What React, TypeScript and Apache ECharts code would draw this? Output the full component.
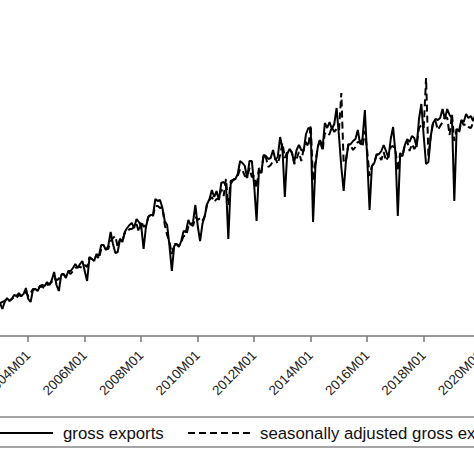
import React, { useEffect, useRef } from "react";
import * as echarts from "echarts";

// Monthly categories 2003M01 .. 2020M01
const years = [2003, 2004, 2005, 2006, 2007, 2008, 2009, 2010, 2011, 2012, 2013, 2014, 2015, 2016, 2017, 2018, 2019, 2020];
const months = ["01", "02", "03", "04", "05", "06", "07", "08", "09", "10", "11", "12"];
const categories: string[] = [];
years.forEach((y) => months.forEach((m) => { if (y < 2020 || m === "01") categories.push(`${y}M${m}`); }));

const legendNames = ["gross exports", "seasonally adjusted gross exports"];

// gross exports (one row per year)
const grossExports: number[] = [
  33, 27, 34, 38, 35, 37, 41, 40, 43, 40, 42, 48,
  37, 34, 46, 47, 45, 50, 51, 50, 54, 51, 56, 64,
  51, 45, 61, 62, 58, 65, 65, 68, 72, 68, 72, 75,
  65, 55, 78, 77, 75, 82, 80, 91, 91, 86, 90, 104,
  92, 83, 84, 97, 94, 104, 108, 111, 113, 108, 117, 114,
  110, 87, 109, 119, 121, 121, 137, 135, 136, 128, 115, 111,
  90, 65, 90, 92, 89, 95, 105, 104, 116, 111, 114, 131,
  110, 95, 112, 120, 132, 137, 146, 139, 145, 136, 153, 154,
  151, 97, 152, 156, 157, 162, 175, 173, 170, 158, 175, 175,
  150, 115, 166, 163, 181, 180, 177, 178, 186, 176, 179, 199,
  187, 139, 182, 187, 183, 174, 186, 191, 186, 185, 202, 208,
  207, 114, 170, 189, 196, 187, 213, 208, 214, 207, 212, 228,
  200, 169, 145, 176, 191, 192, 195, 197, 206, 192, 197, 226,
  178, 126, 170, 173, 181, 182, 185, 191, 185, 178, 197, 209,
  183, 120, 181, 180, 191, 197, 194, 200, 198, 189, 217, 232,
  200, 172, 174, 200, 213, 217, 216, 218, 227, 217, 227, 221,
  218, 135, 207, 205, 216, 214, 222, 218, 220, 215, 222, 238,
  190,
];

// seasonally adjusted gross exports
const saExports: number[] = [
  33, 34, 35, 38, 35, 37, 39, 38, 41, 40, 40, 44,
  40, 43, 47, 47, 46, 50, 49, 48, 51, 52, 54, 58,
  56, 57, 62, 62, 59, 64, 62, 65, 68, 69, 69, 68,
  71, 69, 79, 77, 76, 81, 77, 87, 86, 87, 87, 95,
  98, 100, 89, 97, 95, 103, 103, 107, 107, 109, 112, 104,
  115, 109, 111, 119, 122, 120, 130, 130, 128, 129, 111, 101,
  94, 82, 92, 92, 90, 94, 100, 100, 109, 112, 110, 119,
  116, 118, 115, 120, 133, 136, 139, 134, 137, 137, 147, 140,
  157, 131, 155, 156, 158, 160, 167, 166, 160, 159, 168, 159,
  160, 148, 168, 163, 182, 178, 169, 171, 175, 178, 172, 181,
  193, 178, 184, 187, 184, 172, 177, 184, 175, 187, 194, 189,
  211, 155, 174, 189, 197, 185, 203, 200, 202, 209, 204, 207,
  205, 243, 173, 176, 192, 190, 186, 189, 194, 194, 189, 205,
  185, 160, 170, 173, 182, 180, 176, 184, 175, 180, 189, 190,
  186, 165, 183, 180, 192, 195, 185, 192, 187, 191, 208, 211,
  208, 258, 180, 200, 214, 215, 206, 210, 214, 219, 218, 201,
  222, 195, 207, 203, 215, 211, 212, 209, 208, 213, 213, 216,
  210,
];

const FONT = 'Arial, "Liberation Sans", Helvetica, sans-serif';
const DASH = [7, 4];

const isTick = (_i: number, v: string) => v.endsWith("M01") && parseInt(v.slice(0, 4), 10) % 2 === 0;

export default function App() {
  const ref = useRef<HTMLDivElement>(null);
  useEffect(() => {
    if (!ref.current) return;
    const chart = echarts.init(ref.current, undefined, { renderer: "svg" });
    const legendY = 433;
    chart.setOption({
      animation: false,
      backgroundColor: "#ffffff",
      grid: { left: 0, top: 46, width: 480.2, bottom: 128, containLabel: false, outerBoundsMode: "none" },
      xAxis: {
        type: "category",
        data: categories,
        boundaryGap: false,
        axisLine: { show: true, lineStyle: { color: "#777", width: 1.5 } },
        axisTick: { show: true, interval: isTick, length: 6, lineStyle: { color: "#777", width: 1.5 } },
        axisLabel: {
          interval: isTick,
          rotate: 45,
          margin: 7,
          color: "#222",
          fontSize: 13.5,
          fontFamily: FONT,
          hideOverlap: false,
        },
        splitLine: { show: false },
      },
      yAxis: { type: "value", min: -10, max: 290, show: false },
      graphic: [
        {
          type: "rect",
          silent: true,
          shape: { x: -20, y: 417, width: 600, height: 30 },
          style: { fill: "none", stroke: "#888", lineWidth: 1.5 },
        },
        {
          type: "line",
          silent: true,
          shape: { x1: -9, y1: legendY, x2: 53, y2: legendY },
          style: { stroke: "#000", lineWidth: 1.8 },
        },
        {
          type: "text",
          silent: true,
          x: 63,
          y: legendY,
          style: { text: legendNames[0], fill: "#111", font: `16.8px ${FONT}`, verticalAlign: "middle", align: "left" },
        },
        {
          type: "line",
          silent: true,
          shape: { x1: 188, y1: legendY, x2: 250, y2: legendY },
          style: { stroke: "#000", lineWidth: 1.8, lineDash: DASH },
        },
        {
          type: "text",
          silent: true,
          x: 260,
          y: legendY,
          style: { text: legendNames[1], fill: "#111", font: `16.8px ${FONT}`, verticalAlign: "middle", align: "left" },
        },
      ],
      series: [
        {
          name: legendNames[0],
          type: "line",
          data: grossExports,
          symbol: "none",
          lineStyle: { color: "#000", width: 2 },
          itemStyle: { color: "#000" },
        },
        {
          name: legendNames[1],
          type: "line",
          data: saExports,
          symbol: "none",
          lineStyle: { color: "#000", width: 2, type: DASH },
          itemStyle: { color: "#000" },
        },
      ],
    });
    return () => chart.dispose();
  }, []);
  return (
    <div style={{ position: "absolute", left: 0, top: 0, width: 474, height: 474, overflow: "hidden" }}>
      <div ref={ref} style={{ width: 560, height: 474 }} />
    </div>
  );
}
